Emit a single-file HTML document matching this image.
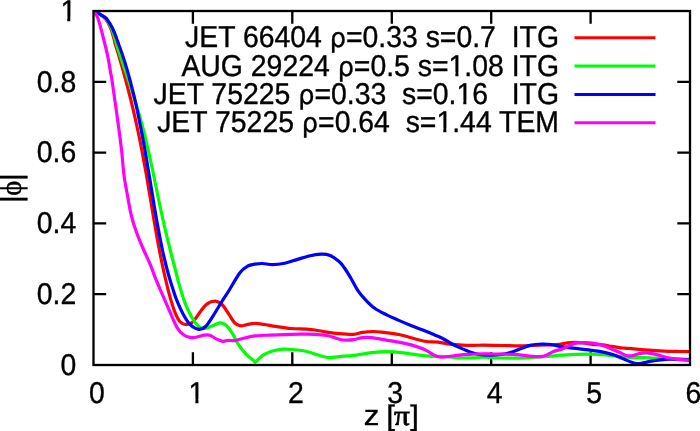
<!DOCTYPE html>
<html><head><meta charset="utf-8"><title>plot</title>
<style>
html,body{margin:0;padding:0;background:#fff;}
body{width:700px;height:431px;overflow:hidden;}
svg{display:block;}
text{font-family:"Liberation Sans",sans-serif;font-size:28.4px;fill:#000;stroke:#000;stroke-width:0.35px;text-rendering:geometricPrecision;}
.rho{font-family:"DejaVu Sans",sans-serif;font-size:25.5px;}
.sym{font-family:"Liberation Serif",serif;}
</style></head><body>
<svg width="700" height="431" viewBox="0 0 700 431">
<rect width="700" height="431" fill="#fff"/>
<defs><clipPath id="c"><rect x="93.5" y="10" width="597.5" height="356"/></clipPath></defs>
<g stroke="#000" stroke-width="2.3" fill="none"><path d="M192.9 365 v-12.7 M192.9 11 v12.7"/><path d="M292.3 365 v-12.7 M292.3 11 v12.7"/><path d="M391.8 365 v-12.7 M391.8 11 v12.7"/><path d="M491.2 365 v-12.7 M491.2 11 v12.7"/><path d="M590.6 365 v-12.7 M590.6 11 v12.7"/><path d="M93.5 294.2 h12.7 M690.0 294.2 h-12.7"/><path d="M93.5 223.4 h12.7 M690.0 223.4 h-12.7"/><path d="M93.5 152.6 h12.7 M690.0 152.6 h-12.7"/><path d="M93.5 81.8 h12.7 M690.0 81.8 h-12.7"/></g>
<g><text transform="translate(76.2 375) scale(1 1.06)" text-anchor="end">0</text><text transform="translate(76.2 304) scale(1 1.06)" text-anchor="end">0.2</text><text transform="translate(76.2 233) scale(1 1.06)" text-anchor="end">0.4</text><text transform="translate(76.2 162) scale(1 1.06)" text-anchor="end">0.6</text><text transform="translate(76.2 92) scale(1 1.06)" text-anchor="end">0.8</text><text transform="translate(76.2 21) scale(1 1.06)" text-anchor="end">1</text></g>
<g><text transform="translate(97.0 403) scale(1 1.06)" text-anchor="middle">0</text><text transform="translate(196.4 403) scale(1 1.06)" text-anchor="middle">1</text><text transform="translate(295.8 403) scale(1 1.06)" text-anchor="middle">2</text><text transform="translate(395.2 403) scale(1 1.06)" text-anchor="middle">3</text><text transform="translate(494.7 403) scale(1 1.06)" text-anchor="middle">4</text><text transform="translate(594.1 403) scale(1 1.06)" text-anchor="middle">5</text><text transform="translate(693.5 403) scale(1 1.06)" text-anchor="middle">6</text></g>
<text transform="translate(363.8 425.3) scale(1.1 1)" xml:space="preserve">z <tspan dx="-1.6">[</tspan><tspan class="sym" dx="-0.9" style="font-size:28.5px;stroke-width:0.7px">π</tspan><tspan dx="0.3">]</tspan></text>
<text transform="translate(21 188.1) rotate(-90) scale(1 1.06)" text-anchor="middle">|<tspan class="sym" dx="-0.3">ϕ</tspan><tspan dx="0.1">|</tspan></text>
<text transform="translate(559 47.0) scale(1 1.06)" text-anchor="end" xml:space="preserve">JET 66404 <tspan class="rho">ρ</tspan>=0.33 s=0.7  ITG</text>
<path d="M574.5 37.8 H655.5" stroke="#ff0000" stroke-width="3" fill="none"/>
<text transform="translate(559 76.0) scale(1 1.06)" text-anchor="end" xml:space="preserve">AUG 29224 <tspan class="rho">ρ</tspan>=0.5 s=1.08 ITG</text>
<path d="M574.5 66.1 H655.5" stroke="#00ff00" stroke-width="3" fill="none"/>
<text transform="translate(559 104.0) scale(1 1.06)" text-anchor="end" xml:space="preserve">JET 75225 <tspan class="rho">ρ</tspan>=0.33  s=0.16   ITG</text>
<path d="M574.5 94.5 H655.5" stroke="#0000ff" stroke-width="3" fill="none"/>
<text transform="translate(559 132.0) scale(1 1.06)" text-anchor="end" xml:space="preserve">JET 75225 <tspan class="rho">ρ</tspan>=0.64  s=1.44 TEM</text>
<path d="M574.5 122.8 H655.5" stroke="#ff00ff" stroke-width="3" fill="none"/>

<g id="fix" fill="#fff"><rect x="61.37" y="17.25" width="5.88" height="4.95"/><rect x="70.35" y="17.25" width="5.66" height="4.95"/><rect x="189.46" y="399.25" width="5.88" height="4.95"/><rect x="198.45" y="399.25" width="5.66" height="4.95"/><rect x="189.56" y="25.39" width="4.86" height="3.89"/><rect x="449.49" y="72.25" width="5.88" height="4.95"/><rect x="458.48" y="72.25" width="5.66" height="4.95"/><rect x="158.00" y="82.39" width="4.86" height="3.89"/><rect x="457.40" y="100.25" width="5.88" height="4.95"/><rect x="466.39" y="100.25" width="5.66" height="4.95"/><rect x="161.67" y="110.39" width="4.86" height="3.89"/><rect x="437.39" y="128.25" width="5.88" height="4.95"/><rect x="446.37" y="128.25" width="5.66" height="4.95"/></g>
<g clip-path="url(#c)" fill="none" stroke-width="3.2" stroke-linejoin="round" stroke-linecap="butt">
<path d="M93.5 11.0C94.4 11.4 97.2 12.5 99.1 13.7C101.0 14.9 103.4 17.0 104.8 18.3C106.2 19.6 106.7 20.5 107.4 21.7C108.2 22.9 108.7 24.1 109.3 25.3C109.9 26.5 110.4 27.7 110.9 29.0C111.4 30.3 111.9 31.7 112.3 33.0C112.7 34.3 113.1 35.7 113.5 37.0C113.9 38.3 114.2 39.8 114.5 41.0C114.8 42.2 114.8 42.9 115.3 44.5C115.8 46.1 116.4 47.5 117.3 50.5C118.2 53.5 119.7 58.5 120.8 62.5C122.0 66.5 123.1 70.5 124.2 74.5C125.3 78.5 126.4 82.5 127.4 86.5C128.5 90.5 129.5 94.5 130.5 98.5C131.5 102.5 132.4 106.5 133.4 110.5C134.3 114.5 135.2 118.5 136.1 122.5C137.0 126.5 137.8 130.5 138.7 134.5C139.5 138.5 140.3 142.5 141.1 146.5C141.9 150.5 142.6 154.5 143.4 158.5C144.1 162.5 144.8 166.5 145.6 170.5C146.3 174.5 147.0 178.5 147.7 182.5C148.3 186.5 149.0 190.5 149.7 194.5C150.4 198.5 151.0 202.5 151.7 206.5C152.4 210.5 153.0 214.5 153.7 218.5C154.4 222.5 155.1 226.5 155.8 230.5C156.5 234.5 157.2 238.5 157.9 242.5C158.7 246.5 159.4 250.5 160.2 254.5C161.0 258.5 161.8 262.5 162.7 266.5C163.5 270.5 164.4 274.5 165.4 278.5C166.3 282.5 167.4 286.9 168.3 290.5C169.3 294.1 169.6 295.9 170.8 299.8C172.0 303.7 173.9 310.0 175.5 313.7C177.1 317.4 178.3 320.0 180.1 321.8C181.9 323.6 184.3 324.6 186.4 324.6C188.5 324.6 190.6 324.0 192.9 321.8C195.2 319.6 198.1 314.4 200.5 311.4C202.9 308.4 205.0 305.3 207.5 303.6C210.0 301.9 213.0 301.0 215.5 301.2C218.0 301.4 220.2 302.7 222.5 305.0C224.8 307.3 227.2 311.9 229.3 314.9C231.4 317.9 232.9 321.2 234.8 323.0C236.7 324.8 238.4 325.5 240.5 325.8C242.6 326.1 244.7 325.0 247.1 324.6C249.5 324.2 251.9 323.4 254.7 323.4C257.5 323.3 260.2 323.8 263.7 324.3C267.2 324.8 271.3 325.7 275.8 326.4C280.3 327.1 285.9 328.1 290.9 328.5C295.9 328.9 301.9 328.9 305.9 329.1C309.9 329.4 311.5 329.5 315.0 330.0C318.5 330.5 323.1 331.5 327.1 332.1C331.1 332.7 334.7 333.2 339.1 333.6C343.5 334.0 349.6 334.5 353.5 334.3C357.4 334.1 359.3 332.9 362.6 332.4C365.9 331.9 369.7 331.5 373.2 331.5C376.7 331.5 379.4 331.9 383.7 332.4C388.0 332.9 393.8 333.5 398.8 334.5C403.8 335.5 409.4 337.3 413.9 338.5C418.4 339.7 421.9 340.9 425.9 341.5C429.9 342.1 434.0 341.7 438.0 342.1C442.0 342.6 446.1 343.7 450.1 344.2C454.1 344.7 458.1 345.0 462.1 345.2C466.1 345.4 470.7 345.4 474.2 345.4C477.7 345.4 478.5 345.1 483.1 345.1C487.7 345.1 495.8 345.4 501.7 345.5C507.6 345.6 512.9 345.9 518.4 345.9C523.9 345.9 529.6 345.6 534.5 345.5C539.4 345.4 543.4 345.2 547.5 345.0C551.6 344.8 555.8 344.7 559.0 344.4C562.2 344.1 564.0 343.3 566.5 343.0C569.0 342.7 571.2 342.4 574.0 342.4C576.8 342.4 580.3 342.6 583.5 343.0C586.7 343.4 590.0 344.3 593.1 344.6C596.2 344.9 599.3 344.5 602.4 344.8C605.5 345.1 608.6 345.9 611.7 346.4C614.8 346.9 617.2 347.5 620.9 347.9C624.6 348.3 629.2 348.5 633.9 348.9C638.5 349.3 643.8 349.8 648.8 350.2C653.8 350.6 658.8 350.9 663.7 351.1C668.7 351.3 673.9 351.4 678.5 351.5C683.1 351.6 689.3 351.6 691.5 351.6" stroke="#ff0000"/>
<path d="M93.5 11.0C94.4 11.5 97.1 12.7 99.0 13.9C100.9 15.1 103.6 16.8 105.1 18.1C106.6 19.4 107.2 20.5 108.0 21.7C108.8 22.9 109.4 24.1 110.0 25.3C110.6 26.5 111.2 27.7 111.7 29.0C112.2 30.3 112.8 31.7 113.2 33.0C113.7 34.3 114.0 35.7 114.4 37.0C114.8 38.3 115.2 39.8 115.6 41.0C116.0 42.2 116.1 42.9 116.6 44.5C117.1 46.1 117.5 47.5 118.5 50.5C119.5 53.5 121.1 58.5 122.4 62.5C123.7 66.5 125.1 70.5 126.5 74.5C127.8 78.5 129.2 82.5 130.5 86.5C131.8 90.5 133.1 94.5 134.4 98.5C135.6 102.5 136.9 106.5 138.0 110.5C139.2 114.5 140.3 118.5 141.4 122.5C142.5 126.5 143.6 130.5 144.6 134.5C145.6 138.5 146.5 142.5 147.4 146.5C148.4 150.5 149.3 154.5 150.1 158.5C151.0 162.5 151.8 166.5 152.7 170.5C153.5 174.5 154.3 178.5 155.1 182.5C156.0 186.5 156.8 190.5 157.6 194.5C158.4 198.5 159.3 202.5 160.1 206.5C161.0 210.5 161.8 214.5 162.7 218.5C163.6 222.5 164.5 226.5 165.5 230.5C166.4 234.5 167.4 238.5 168.4 242.5C169.4 246.5 170.4 250.5 171.4 254.5C172.4 258.5 173.5 262.5 174.5 266.5C175.5 270.5 176.8 275.6 177.5 278.5C178.3 281.4 177.7 279.7 178.9 283.6C180.1 287.5 182.6 296.5 184.7 302.1C186.8 307.7 189.4 313.1 191.7 317.2C194.0 321.3 196.5 324.6 198.7 326.5C200.9 328.4 202.7 328.6 205.0 328.5C207.3 328.4 210.0 326.6 212.5 325.7C215.0 324.8 217.7 323.0 219.9 322.9C222.1 322.8 223.7 323.3 225.7 325.0C227.7 326.7 229.9 329.6 232.1 333.0C234.3 336.4 236.4 341.5 238.8 345.1C241.2 348.7 244.1 352.1 246.5 354.6C248.9 357.1 251.7 358.9 253.1 360.2C254.5 361.5 254.3 362.3 255.0 362.3C255.7 362.3 256.2 361.4 257.5 360.2C258.8 359.0 260.9 356.6 263.0 355.2C265.1 353.8 267.3 352.7 270.2 351.7C273.1 350.7 276.6 349.7 280.3 349.3C284.0 348.9 288.1 349.2 292.4 349.5C296.7 349.8 301.6 350.3 305.9 351.2C310.2 352.1 314.2 353.9 318.0 355.0C321.8 356.1 325.1 357.3 328.6 357.6C332.1 357.9 334.8 357.0 339.1 356.6C343.4 356.2 348.8 356.0 354.2 355.3C359.6 354.6 366.2 353.2 371.6 352.6C377.0 352.0 381.7 351.7 386.7 351.7C391.7 351.7 396.8 352.1 401.8 352.6C406.8 353.1 411.9 354.2 416.9 354.8C421.9 355.4 427.0 356.0 432.0 356.3C437.0 356.6 442.6 356.3 447.1 356.6C451.6 356.9 454.6 357.7 459.1 357.9C463.6 358.1 470.2 357.9 474.2 357.8C478.2 357.7 478.5 357.2 483.1 357.2C487.7 357.2 495.5 357.9 501.7 358.0C507.9 358.1 514.6 358.2 520.2 358.1C525.8 358.0 530.5 357.5 535.1 357.2C539.8 356.9 543.8 356.6 548.1 356.3C552.4 356.0 556.5 355.5 561.1 355.2C565.8 354.9 571.9 354.6 576.0 354.4C580.1 354.2 581.8 354.2 585.6 354.2C589.4 354.2 594.9 354.2 598.6 354.4C602.3 354.6 604.4 354.8 607.9 355.2C611.4 355.6 615.2 356.2 619.5 356.6C623.8 357.0 629.6 357.4 633.9 357.6C638.2 357.8 641.7 357.5 645.1 357.6C648.5 357.7 651.3 358.0 654.4 358.1C657.5 358.2 659.7 358.3 663.7 358.5C667.7 358.7 673.9 359.0 678.5 359.1C683.1 359.2 689.3 359.3 691.5 359.4" stroke="#00ff00"/>
<path d="M93.5 11.0C94.3 11.4 97.0 12.5 98.4 13.3C99.9 14.1 101.0 14.8 102.2 15.6C103.4 16.4 104.5 16.8 105.6 17.8C106.7 18.8 107.8 20.4 108.7 21.7C109.6 22.9 110.2 24.1 110.9 25.3C111.6 26.5 112.2 27.7 112.8 29.0C113.4 30.3 114.0 31.7 114.6 33.0C115.1 34.3 115.6 35.7 116.1 37.0C116.6 38.3 117.1 39.8 117.5 41.0C117.9 42.2 118.1 42.9 118.7 44.5C119.3 46.1 119.9 47.5 120.9 50.5C122.0 53.5 123.6 58.5 124.9 62.5C126.1 66.5 127.3 70.5 128.4 74.5C129.6 78.5 130.6 82.5 131.6 86.5C132.7 90.5 133.6 94.5 134.6 98.5C135.5 102.5 136.4 106.5 137.3 110.5C138.1 114.5 138.9 118.5 139.7 122.5C140.5 126.5 141.3 130.5 142.1 134.5C142.8 138.5 143.6 142.5 144.3 146.5C145.0 150.5 145.7 154.5 146.4 158.5C147.1 162.5 147.7 166.5 148.4 170.5C149.1 174.5 149.7 178.5 150.4 182.5C151.0 186.5 151.7 190.5 152.4 194.5C153.0 198.5 153.7 202.5 154.3 206.5C155.0 210.5 155.7 214.5 156.4 218.5C157.1 222.5 157.8 226.5 158.6 230.5C159.3 234.5 160.1 238.5 160.9 242.5C161.7 246.5 162.5 250.5 163.4 254.5C164.4 258.5 165.3 262.5 166.3 266.5C167.3 270.5 168.4 274.5 169.6 278.5C170.8 282.5 172.2 286.9 173.4 290.5C174.5 294.1 174.9 295.7 176.6 299.8C178.3 303.9 181.3 310.7 183.6 314.9C185.9 319.1 188.0 322.5 190.5 324.9C193.0 327.3 196.2 329.0 198.7 329.3C201.2 329.6 203.1 328.9 205.6 326.5C208.1 324.1 210.8 319.3 213.7 314.9C216.6 310.4 220.3 303.9 222.9 299.8C225.5 295.7 226.2 295.0 229.0 290.5C231.8 286.0 236.8 276.8 239.9 272.7C243.0 268.6 245.1 267.6 247.5 266.2C249.9 264.8 252.0 264.6 254.5 264.2C257.0 263.8 259.4 263.4 262.5 263.5C265.6 263.6 269.1 264.7 272.8 264.6C276.5 264.6 280.8 264.0 284.8 263.2C288.8 262.4 292.9 260.8 296.9 259.6C300.9 258.4 305.0 256.9 309.0 256.0C313.0 255.1 317.5 254.3 321.0 254.2C324.5 254.1 327.1 254.3 330.1 255.5C333.1 256.7 336.7 259.4 339.1 261.5C341.5 263.6 342.6 265.3 344.5 268.0C346.4 270.7 348.2 273.7 350.5 277.5C352.8 281.3 355.6 287.1 358.1 290.8C360.6 294.5 362.8 297.0 365.6 299.9C368.4 302.8 371.2 305.8 374.7 308.3C378.2 310.8 382.7 312.9 386.7 314.9C390.7 316.9 394.8 318.6 398.8 320.4C402.8 322.2 406.9 323.9 410.9 325.5C414.9 327.1 418.8 328.4 422.9 330.0C426.9 331.6 431.9 333.8 435.2 335.2C438.5 336.6 440.3 337.2 442.8 338.5C445.3 339.8 447.8 341.6 450.3 343.0C452.8 344.4 455.4 345.7 457.9 346.8C460.3 347.9 463.0 349.0 465.0 349.9C467.0 350.8 468.0 351.3 470.1 352.0C472.2 352.7 474.4 353.7 477.5 354.2C480.6 354.7 484.6 355.2 488.6 355.2C492.6 355.2 497.6 354.9 501.5 354.4C505.4 353.9 508.7 353.0 512.0 352.0C515.3 351.0 518.3 349.4 521.5 348.3C524.7 347.2 527.6 345.8 531.0 345.1C534.4 344.4 538.6 344.1 542.0 344.0C545.4 343.9 548.4 344.2 551.5 344.6C554.6 345.0 557.2 345.8 560.5 346.4C563.8 346.9 567.8 347.5 571.0 347.9C574.2 348.3 576.9 348.5 579.5 348.8C582.1 349.1 584.1 349.4 586.5 349.7C588.9 350.0 591.1 350.2 594.1 350.7C597.1 351.1 601.0 351.7 604.4 352.4C607.8 353.1 611.0 354.0 614.2 355.1C617.4 356.2 620.6 357.7 623.4 358.8C626.2 359.9 628.6 361.2 630.9 362.0C633.2 362.8 635.0 363.5 637.0 363.6C639.0 363.8 640.6 363.3 643.0 362.9C645.4 362.5 648.4 361.7 651.3 361.2C654.2 360.7 657.5 360.2 660.5 359.9C663.5 359.6 666.3 359.3 669.5 359.2C672.7 359.1 675.8 359.2 679.5 359.4C683.2 359.6 689.5 360.3 691.5 360.5" stroke="#0000ff"/>
<path d="M93.5 11.0C94.2 12.2 96.3 14.0 97.8 18.0C99.3 21.9 100.9 28.5 102.5 34.7C104.1 40.9 106.1 48.6 107.5 55.1C108.9 61.6 110.0 69.3 110.8 73.6C111.6 77.9 111.1 74.1 112.1 81.0C113.1 87.9 115.3 103.4 116.9 114.8C118.5 126.2 120.3 139.4 121.5 149.6C122.7 159.8 123.0 167.9 124.1 176.0C125.2 184.1 126.8 191.7 128.0 198.2C129.2 204.7 129.8 209.5 131.2 215.0C132.5 220.5 134.2 225.8 136.1 231.2C138.0 236.6 140.3 242.1 142.6 247.5C144.9 252.9 147.7 258.5 149.9 263.7C152.1 268.9 153.6 273.6 155.7 278.9C157.8 284.1 160.4 289.8 162.7 295.2C165.0 300.6 167.3 306.0 169.7 311.4C172.1 316.8 174.8 323.7 177.1 327.6C179.4 331.5 181.3 333.2 183.5 334.8C185.7 336.4 187.7 337.0 190.0 337.4C192.3 337.8 194.8 337.4 197.2 337.0C199.5 336.6 202.0 335.5 204.1 335.2C206.2 334.9 208.0 334.6 209.9 335.2C211.8 335.8 213.6 337.6 215.7 338.6C217.8 339.6 220.6 341.0 222.7 341.3C224.8 341.6 226.4 340.4 228.5 340.3C230.6 340.2 232.7 340.9 235.0 340.6C237.3 340.3 239.3 339.3 242.6 338.5C245.9 337.7 250.2 336.5 254.7 335.9C259.2 335.3 264.7 335.3 269.7 335.1C274.7 334.9 279.8 334.8 284.8 334.6C289.8 334.5 294.9 334.2 299.9 334.2C304.9 334.1 310.5 334.1 315.0 334.3C319.5 334.5 323.6 334.9 327.1 335.5C330.6 336.1 333.3 337.4 336.1 338.2C338.9 338.9 340.7 339.8 343.7 340.0C346.7 340.2 350.8 340.0 353.9 339.6C357.0 339.2 359.7 337.9 362.6 337.6C365.6 337.3 368.1 337.2 371.6 337.6C375.1 338.0 379.2 338.9 383.7 339.7C388.2 340.4 394.1 341.2 398.8 342.1C403.5 343.0 407.7 343.9 412.0 345.1C416.3 346.4 421.0 347.9 424.7 349.6C428.4 351.3 431.4 353.8 434.1 355.1C436.8 356.4 438.6 356.9 441.0 357.2C443.4 357.4 445.6 357.0 448.6 356.6C451.6 356.2 455.6 355.5 459.1 355.1C462.6 354.7 465.5 354.5 469.5 354.3C473.5 354.1 479.6 354.0 483.1 353.9C486.6 353.8 487.4 353.8 490.5 353.9C493.6 353.9 498.0 354.1 501.7 354.2C505.4 354.3 509.4 354.2 512.8 354.4C516.2 354.6 519.3 354.9 522.1 355.2C524.9 355.5 526.5 355.9 529.5 356.1C532.5 356.4 537.2 356.8 540.0 356.7C542.8 356.6 543.8 356.2 546.0 355.4C548.2 354.5 550.7 352.7 553.5 351.6C556.3 350.5 560.0 349.8 562.8 348.7C565.6 347.6 567.8 346.0 570.3 345.0C572.8 344.0 575.0 343.2 577.5 342.8C580.0 342.4 582.2 342.5 585.0 342.6C587.8 342.7 591.3 342.9 594.1 343.3C596.9 343.7 599.4 344.3 602.0 345.1C604.6 345.9 606.9 347.1 609.9 348.3C612.9 349.6 616.8 351.4 619.7 352.6C622.6 353.8 625.0 355.2 627.2 355.7C629.4 356.2 630.9 356.0 632.7 355.7C634.6 355.4 636.1 354.4 638.3 353.9C640.5 353.4 643.2 352.9 645.7 352.9C648.2 352.9 650.7 353.4 653.2 353.9C655.7 354.4 657.9 355.0 660.6 355.7C663.3 356.4 666.6 357.4 669.5 358.0C672.4 358.6 674.3 359.0 678.0 359.4C681.7 359.8 689.2 360.3 691.5 360.5" stroke="#ff00ff"/>
</g>
<rect x="93.5" y="11" width="596.5" height="354" fill="none" stroke="#000" stroke-width="2.3"/>
</svg>
</body></html>
